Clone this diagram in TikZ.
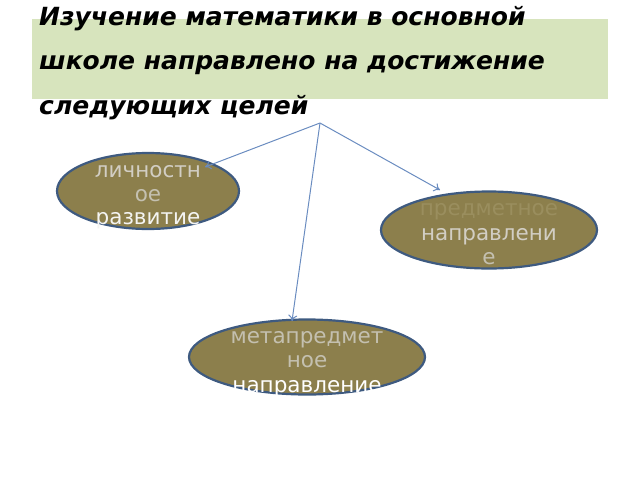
\documentclass[tikz,border=0pt]{standalone}
\usepackage{fontspec}
\setmainfont{DejaVu Sans}
\usetikzlibrary{arrows.meta,shapes.geometric}
\definecolor{band}{HTML}{D7E4BD}
\definecolor{olive}{HTML}{8C7F4C}
\definecolor{rim}{HTML}{3E5A80}
\definecolor{arr}{HTML}{6A8CC0}
\definecolor{tA}{HTML}{D2CEC4}
\definecolor{tB}{HTML}{C4C0B0}
\definecolor{tC}{HTML}{F4F4F2}
\definecolor{tD}{HTML}{9A8E5E}
\tikzset{
  goal/.style={ellipse, draw=rim, line width=2.2pt, fill=olive, inner sep=0pt},
  goaltext/.style={font=\fontsize{21.5}{25}\selectfont, align=center, inner sep=0pt},
  titleline/.style={anchor=base west, inner sep=0pt, font=\fontsize{25}{30}\selectfont\bfseries\itshape},
  link/.style={draw=arr, line width=1pt, -{To[length=6pt,width=9pt]}}
}
\begin{document}
\begin{tikzpicture}[x=1pt,y=-1pt]
\useasboundingbox (0,0) rectangle (640,480);
\fill[band] (32,19) rectangle (608,99);
\node[titleline] (t1) at (39,25) {Изучение математики в основной};
\node[titleline] (t2) at (39,69) {школе направлено на достижение};
\node[titleline] (t3) at (39,114) {следующих целей};
\coordinate (src) at (320,123);
\node[goal, minimum width=182pt, minimum height=76pt] (e1) at (148,191) {};
\node[goal, minimum width=216pt, minimum height=77pt] (e2) at (489,230) {};
\node[goal, minimum width=236pt, minimum height=75pt] (e3) at (307,357) {};
\coordinate (h1) at (205,167);
\coordinate (h2) at (440,190);
\coordinate (h3) at (292,321);
\draw[link] (src) -- (h1);
\draw[link] (src) -- (h2);
\draw[link] (src) -- (h3);
\node[goaltext, anchor=base] (l1a) at (148,177) {\textcolor{tA}{личностн}};
\node[goaltext, anchor=base] (l1b) at (148,201) {\textcolor{tB}{ое}};
\node[goaltext, anchor=base] (l1c) at (148,224) {\textcolor{tC}{развитие}};
\node[goaltext, anchor=base] (l2a) at (489,215) {\textcolor{tD}{предметное}};
\node[goaltext, anchor=base] (l2b) at (489,240) {\textcolor{tA}{направлени}};
\node[goaltext, anchor=base] (l2c) at (489,264) {\textcolor{tB}{е}};
\node[goaltext, anchor=base] (l3a) at (307,343) {\textcolor{tB}{метапредмет}};
\node[goaltext, anchor=base] (l3b) at (307,367) {\textcolor{tB}{ное}};
\node[goaltext, anchor=base] (l3c) at (307,392) {\textcolor{white}{направление}};
\end{tikzpicture}
\end{document}
